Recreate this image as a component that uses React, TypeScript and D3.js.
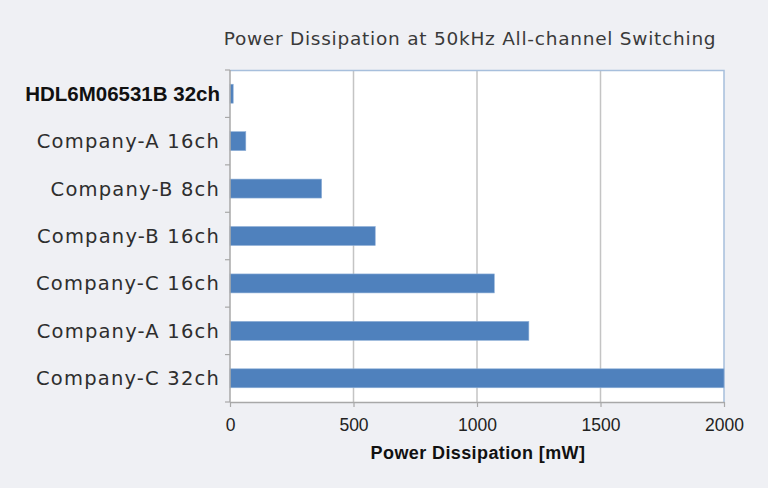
import { useEffect, useRef } from 'react'
import * as d3 from 'd3'

const categories = [
  'HDL6M06531B 32ch',
  'Company-A 16ch',
  'Company-B 8ch',
  'Company-B 16ch',
  'Company-C 16ch',
  'Company-A 16ch ',
  'Company-C 32ch',
]
const powerMw = [13, 64, 371, 588, 1070, 1210, 2000]
const xTicks = [0, 500, 1000, 1500, 2000]

const width = 768
const height = 488
const margin = { top: 70, right: 44, bottom: 86, left: 230 }

export default function App() {
  const svgRef = useRef<SVGSVGElement>(null)

  useEffect(() => {
    if (!svgRef.current) return
    const svg = d3.select(svgRef.current)
    svg.selectAll('*').remove()

    const innerWidth = width - margin.left - margin.right
    const innerHeight = height - margin.top - margin.bottom

    svg.append('rect')
      .attr('width', width)
      .attr('height', height)
      .attr('fill', '#eff0f4')

    svg.append('text')
      .attr('x', 470)
      .attr('y', 45)
      .attr('text-anchor', 'middle')
      .attr('font-family', 'DejaVu Sans')
      .attr('font-size', 18.5)
      .attr('letter-spacing', 0.75)
      .attr('fill', '#3a3a3a')
      .text('Power Dissipation at 50kHz All-channel Switching')

    const g = svg.append('g')
      .attr('transform', `translate(${margin.left},${margin.top})`)

    const x = d3.scaleLinear().domain([0, 2000]).range([0, innerWidth])
    const y = d3.scaleBand<number>()
      .domain(d3.range(categories.length))
      .range([0, innerHeight])
      .paddingInner(0.6)
      .paddingOuter(0.3)

    g.append('rect')
      .attr('width', innerWidth)
      .attr('height', innerHeight)
      .attr('fill', '#ffffff')

    // grid
    g.selectAll('.grid')
      .data(xTicks.slice(1, -1))
      .enter().append('line')
      .attr('x1', d => x(d))
      .attr('x2', d => x(d))
      .attr('y1', 0)
      .attr('y2', innerHeight)
      .attr('stroke', '#c4c4c4')
      .attr('stroke-width', 1.5)

    // top/right border
    g.append('path')
      .attr('d', `M0,0.5H${innerWidth}V${innerHeight}`)
      .attr('fill', 'none')
      .attr('stroke', '#a7bfdc')
      .attr('stroke-width', 1.5)

    g.selectAll('.bar')
      .data(powerMw)
      .enter().append('rect')
      .attr('class', 'bar')
      .attr('x', 0)
      .attr('y', (_, i) => y(i) || 0)
      .attr('width', d => x(d))
      .attr('height', y.bandwidth())
      .attr('fill', '#4f81bd')
      .attr('stroke', '#8fb0d8')
      .attr('stroke-width', 0.6)

    // left axis
    const step = innerHeight / categories.length
    g.append('line')
      .attr('x1', 0).attr('x2', 0)
      .attr('y1', 0).attr('y2', innerHeight)
      .attr('stroke', '#a8a8a8')
      .attr('stroke-width', 1.5)
    g.selectAll('.ytick')
      .data(d3.range(categories.length + 1))
      .enter().append('line')
      .attr('x1', -5).attr('x2', 0)
      .attr('y1', d => d * step).attr('y2', d => d * step)
      .attr('stroke', '#a8a8a8')
      .attr('stroke-width', 1.2)

    g.selectAll('.ylabel')
      .data(categories)
      .enter().append('text')
      .attr('x', -10)
      .attr('y', (_, i) => (y(i) || 0) + y.bandwidth() / 2)
      .attr('dy', '0.36em')
      .attr('text-anchor', 'end')
      .attr('font-family', (_, i) => i === 0 ? 'Liberation Sans' : 'DejaVu Sans')
      .attr('font-weight', (_, i) => i === 0 ? 'bold' : 'normal')
      .attr('font-size', (_, i) => i === 0 ? 20.5 : 19.5)
      .attr('letter-spacing', (_, i) => i === 0 ? 0 : 1.2)
      .attr('fill', (_, i) => i === 0 ? '#111' : '#2e2e2e')
      .text(d => d.trim())

    // bottom axis
    const xAxis = g.append('g')
      .attr('transform', `translate(0,${innerHeight})`)
      .call(d3.axisBottom(x).tickValues(xTicks).tickFormat(d3.format('d')).tickSize(5).tickSizeOuter(0))
    xAxis.select('.domain').attr('stroke', '#a8a8a8').attr('stroke-width', 1.5)
    xAxis.selectAll('.tick line').attr('stroke', '#a8a8a8').attr('stroke-width', 1.2)
    xAxis.selectAll('.tick text')
      .attr('font-family', 'Liberation Sans')
      .attr('font-size', 17.5)
      .attr('fill', '#222')
      .attr('dy', '1.2em')

    svg.append('text')
      .attr('x', 478)
      .attr('y', 459)
      .attr('text-anchor', 'middle')
      .attr('font-family', 'Liberation Sans')
      .attr('font-weight', 'bold')
      .attr('font-size', 18)
      .attr('letter-spacing', 0.4)
      .attr('fill', '#111')
      .text('Power Dissipation [mW]')
  }, [])

  return (
    <svg
      ref={svgRef}
      width={width}
      height={height}
      style={{ position: 'absolute', left: 0, top: 0, display: 'block' }}
    />
  )
}
